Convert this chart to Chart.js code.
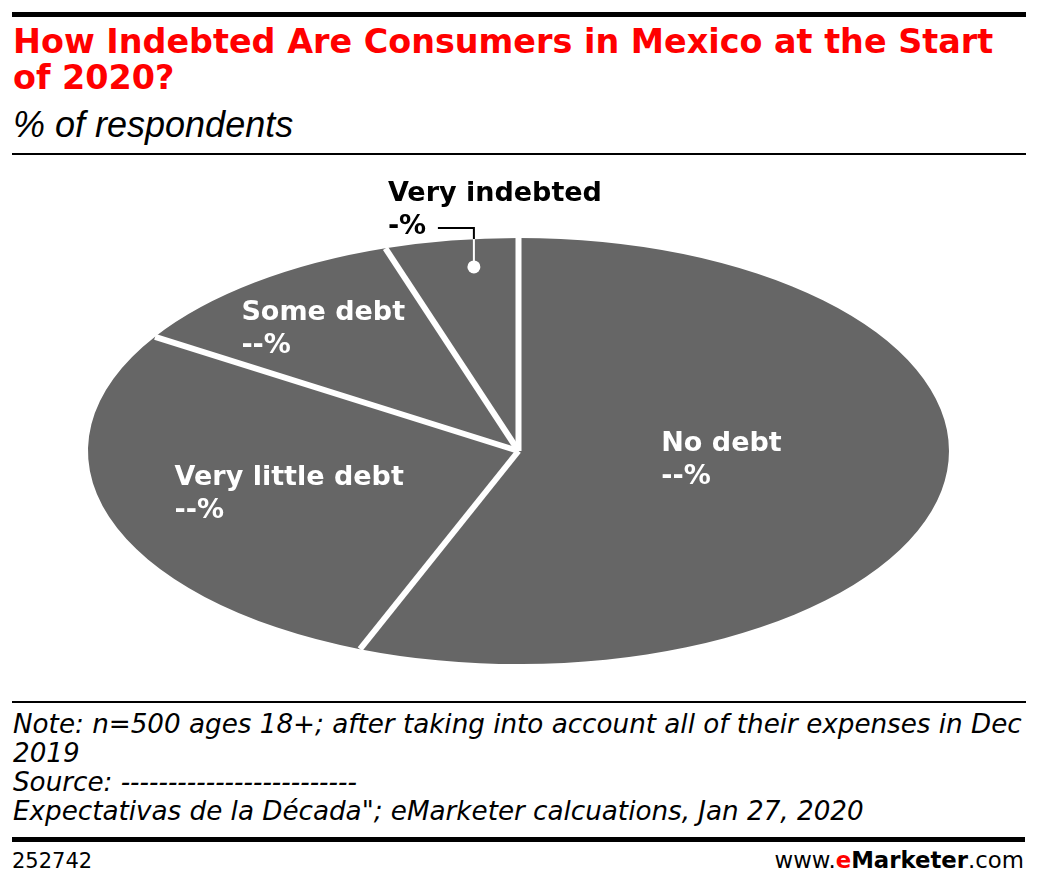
<!DOCTYPE html>
<html>
<head>
<meta charset="utf-8">
<script src="https://cdn.jsdelivr.net/npm/chart.js@4.4.1/dist/chart.umd.min.js"></script>
<style>
  body { margin: 0; background: #fff; }
  #page { position: relative; width: 1039px; height: 888px; overflow: hidden; font-family: "DejaVu Sans", sans-serif; }
  .rule { position: absolute; left: 12px; width: 1014px; background: #000; }
  #title { position: absolute; left: 13px; top: 24px; font: bold 33.4px/36px "DejaVu Sans", sans-serif; color: #f00; white-space: nowrap; }
  #subtitle { position: absolute; left: 13px; top: 106px; font: italic 36px/38px "Liberation Sans", sans-serif; color: #000; }
  #note { position: absolute; left: 13px; top: 710px; font: oblique 26.2px/29px "DejaVu Sans", sans-serif; color: #000; white-space: nowrap; }
  #chartId { position: absolute; left: 12px; top: 849px; font: 21px "DejaVu Sans", sans-serif; }
  #brand { position: absolute; right: 15px; top: 847px; font: 22.8px "DejaVu Sans", sans-serif; }
  #brand b { font-weight: bold; }
  #pie { position: absolute; left: 0; top: 0; }
</style>
</head>
<body>
<div id="page">
  <div class="rule" style="top:12px;height:5px"></div>
  <div id="title">How Indebted Are Consumers in Mexico at the Start<br>of 2020?</div>
  <div id="subtitle">% of respondents</div>
  <div class="rule" style="top:153px;height:2px"></div>
  <div class="rule" style="top:701px;height:2px"></div>
  <div id="note">Note: n=500 ages 18+; after taking into account all of their expenses in Dec<br>2019<br>Source: -------------------------<br>Expectativas de la Década"; eMarketer calcuations, Jan 27, 2020</div>
  <div class="rule" style="top:837px;height:5px;width:1013px"></div>
  <div id="chartId">252742</div>
  <div id="brand">www.<b style="color:#f00">e</b><b>Marketer</b>.com</div>
  <canvas id="pie" width="1039" height="888"></canvas>
</div>
<script>
const categories = ['No debt', 'Very little debt', 'Some debt', 'Very indebted'];
const shares = [56, 28, 11, 5];
const valueLabels = ['--%', '--%', '--%', '-%'];

// pie is drawn squashed into an ellipse, labels placed along each slice's mid angle
const ellipsePie = {
  id: 'ellipsePie',
  beforeDatasetsDraw(chart, args, opts) {
    const a = chart.getDatasetMeta(0).data[0].getProps(['x', 'y'], true);
    const ctx = chart.ctx;
    ctx.save();
    ctx.translate(a.x, opts.centerY);
    ctx.scale(1, opts.squash);
    ctx.translate(-a.x, -a.y);
  },
  afterDatasetsDraw(chart, args, opts) {
    const ctx = chart.ctx;
    ctx.restore();
    const arcs = chart.getDatasetMeta(0).data.map(el => el.getProps(['x', 'startAngle', 'endAngle', 'outerRadius'], true));
    const cx = arcs[0].x, cy = opts.centerY, R = arcs[0].outerRadius, k = opts.squash;
    const at = (ang, f) => [cx + f * R * Math.cos(ang), cy + f * R * k * Math.sin(ang)];

    ctx.save();
    ctx.strokeStyle = '#fff';
    ctx.lineWidth = 6;
    arcs.forEach(a => {
      const p = at(a.startAngle, 1);
      ctx.beginPath();
      ctx.moveTo(cx, cy);
      ctx.lineTo(p[0], p[1]);
      ctx.stroke();
    });

    ctx.font = 'bold 27px "DejaVu Sans"';
    ctx.textBaseline = 'alphabetic';
    ctx.textAlign = 'left';
    arcs.forEach((a, i) => {
      const mid = (a.startAngle + a.endAngle) / 2;
      if (i === arcs.length - 1) {
        // small slice: dot + leader line to a label outside the pie
        const ang = a.startAngle + (a.endAngle - a.startAngle) * opts.dotAt;
        const dot = at(ang, 0.87);
        const edgeY = cy - k * Math.sqrt(R * R - (dot[0] - cx) ** 2);
        const cornerY = edgeY - 11;
        ctx.lineWidth = 2;
        ctx.strokeStyle = '#000';
        ctx.beginPath();
        ctx.moveTo(dot[0] - 36, cornerY);
        ctx.lineTo(dot[0], cornerY);
        ctx.lineTo(dot[0], edgeY);
        ctx.stroke();
        ctx.strokeStyle = '#fff';
        ctx.beginPath();
        ctx.moveTo(dot[0], edgeY);
        ctx.lineTo(dot[0], dot[1]);
        ctx.stroke();
        ctx.fillStyle = '#fff';
        ctx.beginPath();
        ctx.arc(dot[0], dot[1], 6.5, 0, Math.PI * 2);
        ctx.fill();
        ctx.fillStyle = '#000';
        const lx = dot[0] - 86;
        ctx.fillText(categories[i], lx, cornerY - 27);
        ctx.fillText(valueLabels[i], lx, cornerY + 6);
        return;
      }
      const p = at(mid, opts.labelRadius[i]);
      const w = Math.max(ctx.measureText(categories[i]).width, ctx.measureText(valueLabels[i]).width);
      const y = p[1] + opts.labelShiftY[i];
      ctx.fillStyle = '#fff';
      ctx.fillText(categories[i], p[0] - w / 2, y - 3);
      ctx.fillText(valueLabels[i], p[0] - w / 2, y + 30);
    });
    ctx.restore();
  }
};

new Chart(document.getElementById('pie'), {
  type: 'pie',
  data: {
    labels: categories,
    datasets: [{
      data: shares,
      backgroundColor: '#666666',
      borderWidth: 0
    }]
  },
  options: {
    responsive: false,
    animation: false,
    events: [],
    layout: { padding: { left: 88, right: 90, top: 13, bottom: 14 } },
    plugins: {
      legend: { display: false },
      tooltip: { enabled: false },
      ellipsePie: {
        centerY: 451,
        squash: 0.495,
        labelRadius: [0.48, 0.56, 0.74],
        labelShiftY: [-16, 0, -3],
        dotAt: 0.62
      }
    }
  },
  plugins: [ellipsePie]
});
</script>
</body>
</html>
